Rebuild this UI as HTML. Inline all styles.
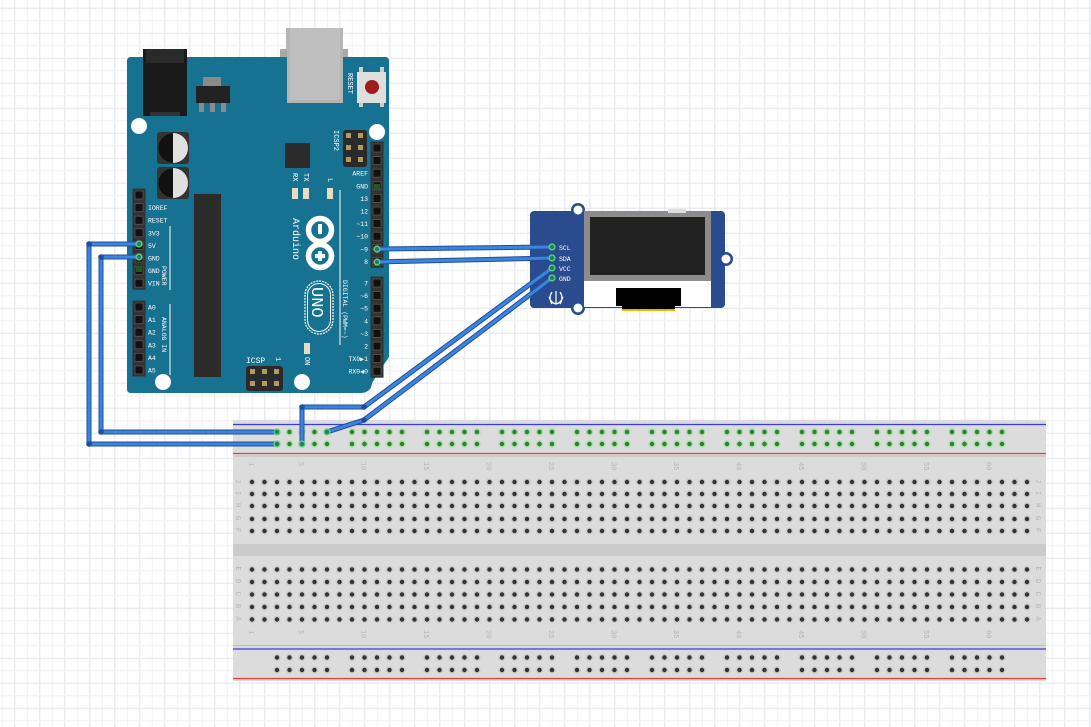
<!DOCTYPE html>
<html><head><meta charset="utf-8">
<style>
html,body{margin:0;padding:0;background:#fff;}
svg{display:block;}
text{font-family:"Liberation Mono","DejaVu Sans Mono",monospace;}
</style></head>
<body>
<svg id="s" width="1091" height="727" viewBox="0 0 1091 727" xmlns="http://www.w3.org/2000/svg">
<defs>
<pattern id="g" x="1.8" y="7.7" width="25" height="25" patternUnits="userSpaceOnUse">
<rect width="25" height="25" fill="#fff"/>
<line x1="0.5" y1="0" x2="0.5" y2="25" stroke="#f1f3f7" stroke-width="1.2"/>
<line x1="13" y1="0" x2="13" y2="25" stroke="#e4e7ef" stroke-width="1.2"/>
<line x1="0" y1="0.5" x2="25" y2="0.5" stroke="#e4e7ef" stroke-width="1.2"/>
<line x1="0" y1="13" x2="25" y2="13" stroke="#f1f3f7" stroke-width="1.2"/>
</pattern>
</defs>
<rect width="1091" height="727" fill="url(#g)"/>

<!-- Breadboard -->
<rect x="233" y="420" width="813" height="261" fill="#dcdcdc"/>
<line x1="233" y1="424.5" x2="1046" y2="424.5" stroke="#3a3ae0" stroke-width="1.2"/>
<line x1="233" y1="453.5" x2="1046" y2="453.5" stroke="#f03a3a" stroke-width="1.2"/>
<line x1="233" y1="456" x2="1046" y2="456" stroke="#c4c4c4" stroke-width="1.2"/>
<rect x="233" y="544" width="813" height="12" fill="#cbcbcb"/>
<line x1="233" y1="645.5" x2="1046" y2="645.5" stroke="#c4c4c4" stroke-width="1.2"/>
<line x1="233" y1="649" x2="1046" y2="649" stroke="#3a3ae0" stroke-width="1.2"/>
<line x1="233" y1="678.5" x2="1046" y2="678.5" stroke="#f03a3a" stroke-width="1.2"/>
<g id="bb"></g>

<!-- Arduino -->
<g>
<rect x="286" y="28" width="57" height="40" fill="#b8b8b8"/>
<path d="M131,57 L385,57 Q389,57 389,61 L389,357 L377,375 L372,383 Q371,393 360,393 L131,393 Q127,393 127,389 L127,61 Q127,57 131,57 Z" fill="#177190"/>
<rect x="280" y="49" width="68" height="8" fill="#a8a8a8"/>
<rect x="287" y="28" width="56" height="75" fill="#b5b5b5"/>
<rect x="290" y="28" width="50" height="72" fill="#bfbfbf"/>
<rect x="143" y="49" width="44" height="67" fill="#1a1a1a"/>
<rect x="146" y="49" width="38" height="14" fill="#2a2a2a"/>
<rect x="150" y="112" width="30" height="4" fill="#333"/>
<rect x="203" y="77" width="18" height="10" fill="#8a8a8a"/>
<rect x="196" y="86" width="34" height="17" fill="#222"/>
<rect x="199" y="103" width="5" height="9" fill="#8a8a8a"/><rect x="210" y="103" width="5" height="9" fill="#8a8a8a"/><rect x="221" y="103" width="5" height="9" fill="#8a8a8a"/>
<!-- reset -->
<rect x="357" y="72" width="29" height="31" fill="#dedede"/>
<rect x="359" y="67" width="4" height="5" fill="#ccc"/><rect x="380" y="67" width="4" height="5" fill="#ccc"/>
<rect x="359" y="103" width="4" height="4" fill="#ccc"/><rect x="380" y="103" width="4" height="4" fill="#ccc"/>
<circle cx="372" cy="87" r="7" fill="#a01c1c"/>
<text transform="translate(348,73) rotate(90)" font-size="7" fill="#fff">RESET</text>
<circle cx="139" cy="126" r="8" fill="#fff"/>
<circle cx="377" cy="132" r="8" fill="#fff"/>
<circle cx="163" cy="382" r="8" fill="#fff"/>
<circle cx="302" cy="382" r="8" fill="#fff"/>
<rect x="157" y="132" width="32" height="32" rx="3" fill="#333"/>
<circle cx="173" cy="148" r="15" fill="#e0e0e0"/><path d="M173,133 A15,15 0 0,0 173,163 Z" fill="#111"/>
<rect x="157" y="167" width="32" height="32" rx="3" fill="#333"/>
<circle cx="173" cy="183" r="15" fill="#e0e0e0"/><path d="M173,168 A15,15 0 0,0 173,198 Z" fill="#111"/>
<rect x="285" y="143" width="25" height="25" fill="#2b2b2b"/>
<rect x="194" y="194" width="27" height="183" fill="#2b2b2b"/>
<rect x="343" y="130" width="24" height="37" rx="3" fill="#2a2a2a"/>
<g fill="#b59a5a"><rect x="346" y="133" width="5" height="5"/><rect x="358" y="133" width="5" height="5"/><rect x="346" y="145" width="5" height="5"/><rect x="358" y="145" width="5" height="5"/><rect x="346" y="157" width="5" height="5"/><rect x="358" y="157" width="5" height="5"/></g>
<text transform="translate(334,130) rotate(90)" font-size="7" fill="#fff">ICSP2</text>
<rect x="246" y="366" width="37" height="25" rx="3" fill="#2a2a2a"/>
<g fill="#b59a5a"><rect x="250" y="369" width="5" height="5"/><rect x="262" y="369" width="5" height="5"/><rect x="274" y="369" width="5" height="5"/><rect x="250" y="381" width="5" height="5"/><rect x="262" y="381" width="5" height="5"/><rect x="274" y="381" width="5" height="5"/></g>
<text x="246" y="363" font-size="8" fill="#fff">ICSP</text>
<text transform="translate(276,357) rotate(90)" font-size="7" fill="#fff">1</text>
<rect x="292" y="188" width="6" height="11" fill="#e8dcc0"/>
<rect x="303" y="188" width="6" height="11" fill="#e8dcc0"/>
<rect x="327" y="188" width="6" height="11" fill="#e8dcc0"/>
<rect x="304" y="343" width="6" height="11" fill="#e8dcc0"/>
<text transform="translate(293,173) rotate(90)" font-size="7" fill="#fff">RX</text>
<text transform="translate(304,173) rotate(90)" font-size="7" fill="#fff">TX</text>
<text transform="translate(328,178) rotate(90)" font-size="7" fill="#fff">L</text>
<text transform="translate(305,357) rotate(90)" font-size="7" fill="#fff">ON</text>
<circle cx="320" cy="230" r="11.5" fill="none" stroke="#fff" stroke-width="5.5"/>
<circle cx="320" cy="256" r="11.5" fill="none" stroke="#fff" stroke-width="5.5"/>
<rect x="318" y="224" width="4" height="10" fill="#fff"/>
<rect x="318" y="251" width="4" height="10" fill="#fff"/><rect x="315" y="254" width="10" height="4" fill="#fff"/>
<text transform="translate(293,218) rotate(90)" font-size="10" fill="#fff">Arduino</text>
<rect x="305" y="281" width="28" height="53" rx="14" fill="none" stroke="#fff" stroke-width="1.2" stroke-dasharray="2,1"/>
<rect x="307.5" y="283.5" width="23" height="48" rx="11.5" fill="none" stroke="#fff" stroke-width="1"/>
<text transform="translate(312,287) rotate(90)" font-size="17" fill="#fff" font-family="Liberation Sans,sans-serif">UNO</text>
<line x1="340" y1="190" x2="340" y2="345" stroke="#fff" stroke-width="1"/>
<text transform="translate(343,280) rotate(90)" font-size="6.5" fill="#fff">DIGITAL (PWM=~)</text>
<line x1="170" y1="226" x2="170" y2="290" stroke="#fff" stroke-width="1"/>
<text transform="translate(162,266) rotate(90)" font-size="6.5" fill="#fff">POWER</text>
<line x1="170" y1="304" x2="170" y2="375" stroke="#fff" stroke-width="1"/>
<text transform="translate(162,317) rotate(90)" font-size="6.5" fill="#fff">ANALOG IN</text>
<g id="hdr"></g>
</g>

<!-- OLED -->
<g>
<rect x="530" y="211" width="195" height="97" rx="4" fill="#2a4b8d"/>
<circle cx="578" cy="210" r="7" fill="#2a4b8d"/><circle cx="578" cy="210" r="4.5" fill="#fff"/>
<circle cx="578" cy="308" r="7" fill="#2a4b8d"/><circle cx="578" cy="308" r="4.5" fill="#fff"/>
<circle cx="726" cy="259" r="7" fill="#2a4b8d"/><circle cx="726" cy="259" r="4.5" fill="#fff"/>
<rect x="584" y="211" width="127" height="96" fill="#fff"/>
<rect x="584" y="211" width="127" height="70" fill="#8c8c8c"/>
<rect x="590" y="217" width="115" height="58" fill="#222"/>
<rect x="668" y="209" width="18" height="4" fill="#ddd"/>
<rect x="616" y="288" width="65" height="18" fill="#000"/>
<rect x="622" y="300" width="53" height="9" fill="#000"/>
<rect x="622" y="309" width="53" height="2" fill="#f0b400"/>
<g font-size="6.5" fill="#fff"><text x="559" y="250">SCL</text><text x="559" y="261">SDA</text><text x="559" y="271">VCC</text><text x="559" y="281">GND</text></g>
<path d="M552,292 q-4,6 0,12 M556,291 v13 M560,292 q4,6 0,12 M549,297 q2,6 7,7 M563,297 q-2,6 -7,7" stroke="#fff" stroke-width="1.2" fill="none"/>
</g>

<g id="w" fill="none" stroke-linejoin="round" stroke-linecap="round"></g>
</svg>
<script>
var NS="http://www.w3.org/2000/svg";
function el(p,t,a){var e=document.createElementNS(NS,t);for(var k in a)e.setAttribute(k,a[k]);p.appendChild(e);return e;}
var bb=document.getElementById('bb');
[432,444,657.5,670].forEach(function(y){
 var top=y<500;
 for(var g=0;g<10;g++)for(var i=0;i<5;i++){
  var x=252+(2+g*6+i)*12.5;
  if(top){el(bb,'circle',{cx:x,cy:y,r:3.6,fill:'#9fe09f'});el(bb,'circle',{cx:x,cy:y,r:2.2,fill:'#2f7f2f'});}
  else{el(bb,'circle',{cx:x,cy:y,r:3.5,fill:'#c6c6c6'});el(bb,'circle',{cx:x,cy:y,r:2.2,fill:'#333'});}
 }
});
var rowsT=[482,494,506,519,531],rowsB=[569.5,582,594.5,607,619.5];
var lT=['J','I','H','G','F'],lB=['E','D','C','B','A'];
rowsT.concat(rowsB).forEach(function(y,ri){
 for(var c=0;c<63;c++){var x=252+c*12.5;
  el(bb,'circle',{cx:x,cy:y,r:3.5,fill:'#c6c6c6'});el(bb,'circle',{cx:x,cy:y,r:2.2,fill:'#333'});}
 var L=ri<5?lT[ri]:lB[ri-5];
 [239,1039].forEach(function(x){var t=el(bb,'text',{transform:'translate('+(x-3)+','+(y-3)+') rotate(90)','font-size':'7',fill:'#b4b4b4'});t.textContent=L;});
});
[1,5,10,15,20,25,30,35,40,45,50,55,60].forEach(function(n){
 var x=252+(n-1)*12.5;
 [462,630].forEach(function(y){var t=el(bb,'text',{transform:'translate('+(x-3)+','+y+') rotate(90)','font-size':'7',fill:'#b4b4b4'});t.textContent=String(n);});
});
var h=document.getElementById('hdr');
function header(x,y0,n,labels,lx,anchor){
 el(h,'rect',{x:x-6.5,y:y0-6.5,width:13,height:(n-1)*12.6+13,fill:'#333'});
 for(var i=0;i<n;i++){var y=y0+i*12.6;
  el(h,'rect',{x:x-4,y:y-4,width:8,height:8,fill:'#111',stroke:'#555','stroke-width':0.8});
  if(labels[i]){var t=el(h,'text',{x:lx,y:y+2.5,'font-size':'6.5',fill:'#fff','text-anchor':anchor});t.textContent=labels[i];}
 }
}
header(377,148,10,['','','AREF','GND','13','12','~11','~10','~9','8'],368,'end');
header(377,283,8,['7','~6','~5','4','~3','2','TX0\u25B61','RX0\u25C00'],368,'end');
header(139,195,8,['','IOREF','RESET','3V3','5V','GND','GND','VIN'],148,'start');
header(139,307,6,['A0','A1','A2','A3','A4','A5'],148,'start');
el(h,'rect',{x:374,y:184,width:6,height:6,fill:'#1e5a1e'});
el(h,'rect',{x:136,y:266,width:6,height:6,fill:'#1e5a1e'});
var w=document.getElementById('w');
var wires=[
 [[139,244],[89,244],[89,444],[277,444]],
 [[139,257],[101,257],[101,432],[277,432]],
 [[377,249],[552,247]],
 [[377,262],[552,258]],
 [[552,268],[364,407],[302,407],[302,444]],
 [[552,278],[364,420],[327,432]]
];
wires.forEach(function(p){
 var d='M'+p.map(function(q){return q.join(',');}).join(' L');
 el(w,'path',{d:d,stroke:'#1d4f9c','stroke-width':5});
 el(w,'path',{d:d,stroke:'#3d84dc','stroke-width':3});
 for(var i=1;i<p.length-1;i++)el(w,'circle',{cx:p[i][0],cy:p[i][1],r:2.8,fill:'#1d4f9c'});
 [p[0],p[p.length-1]].forEach(function(q){el(w,'circle',{cx:q[0],cy:q[1],r:3.6,fill:'#5fd07a'});el(w,'circle',{cx:q[0],cy:q[1],r:2.2,fill:'#1d7f6a'});});
});
</script>
</body></html>
